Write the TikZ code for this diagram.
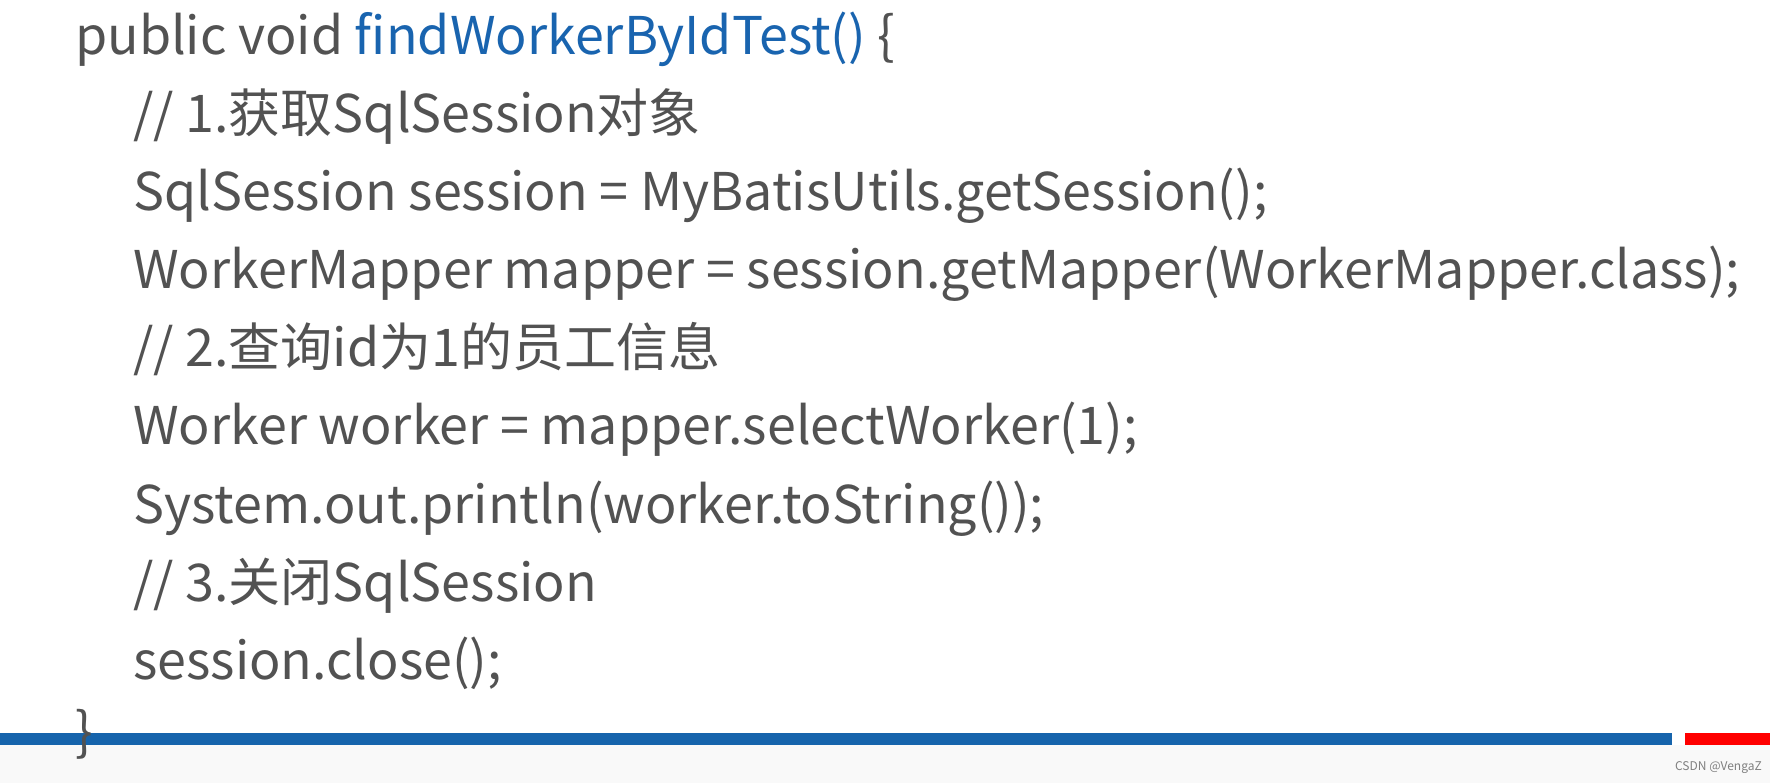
\documentclass[tikz,border=0pt]{standalone}
\usepackage{fontspec}
\setmainfont{Noto Sans CJK SC}
\definecolor{barblue}{RGB}{22,100,172}
\begin{document}
\begin{tikzpicture}[x=1pt,y=-1pt,
  code/.style={anchor=base west,inner sep=0pt,text=black!68,font=\fontsize{52}{60}\selectfont}]
\useasboundingbox (0,0) rectangle (1770,783);
\fill[gray!5] (0,745) rectangle (1770,783);
\fill[barblue] (0,733) rectangle (1672,745);
\fill[red] (1685,733) rectangle (1770,745);
\node[code] (l1) at (75,55) {public void \textcolor[RGB]{25,100,175}{findWorkerByIdTest()} \{};
\node[code] (l2) at (133,133) {// 1.获取SqlSession对象};
\node[code] (l3) at (133,211) {SqlSession session = MyBatisUtils.getSession();};
\node[code] (l4) at (133,289) {WorkerMapper mapper = session.getMapper(WorkerMapper.class);};
\node[code] (l5) at (133,367) {// 2.查询id为1的员工信息};
\node[code] (l6) at (133,445) {Worker worker = mapper.selectWorker(1);};
\node[code] (l7) at (133,523) {System.out.println(worker.toString());};
\node[code] (l8) at (133,601) {// 3.关闭SqlSession};
\node[code] (l9) at (133,679) {session.close();};
\node[code] (l10) at (75,750) {\}};
\node[anchor=base east,inner sep=0pt,text=gray,font=\fontsize{12}{14}\selectfont] (wm) at (1762,770) {CSDN @VengaZ};
\end{tikzpicture}
\end{document}
